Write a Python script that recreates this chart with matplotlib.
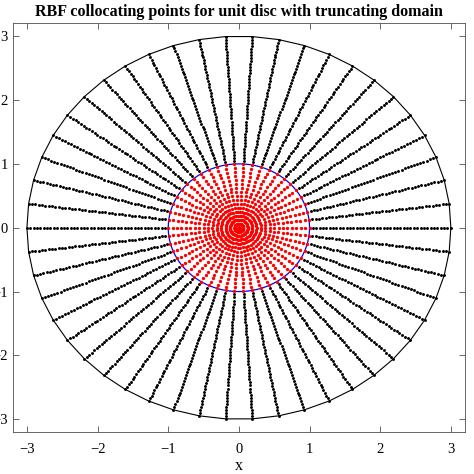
import numpy as np
import matplotlib
matplotlib.use("Agg")
import matplotlib.pyplot as plt

plt.rcParams["font.family"] = ["Liberation Serif", "DejaVu Serif"]

# ======== data ========
n_rays = 50            # number of angular directions
n_inner = 17           # points per ray inside unit disc (0..1)
n_outer = 42           # points per ray in truncating annulus (1..3]
r_inner = 1.0
r_outer = 3.0
xticks = [-3, -2, -1, 0, 1, 2, 3]
yticks = [-3, -2, -1, 0, 1, 2, 3]
# =====================

theta = np.linspace(0, 2 * np.pi, n_rays, endpoint=False)
r_in = np.linspace(0, r_inner, n_inner)
r_out = np.linspace(r_inner, r_outer, n_outer + 1)[1:]

R_in, T_in = np.meshgrid(r_in, theta)
R_out, T_out = np.meshgrid(r_out, theta)

fig = plt.figure(figsize=(4.74, 4.74), dpi=100)
ax = fig.add_axes([0.027, 0.0886, 0.954, 0.862])

# outer boundary (polygon through ray ends) and unit circle
tc = np.append(theta, theta[0])
ax.plot(r_outer * np.cos(tc), r_outer * np.sin(tc), color="k", lw=0.8)
tt = np.linspace(0, 2 * np.pi, 400)
ax.plot(r_inner * np.cos(tt), r_inner * np.sin(tt), color="b", lw=0.9)

ax.plot((R_out * np.cos(T_out)).ravel(), (R_out * np.sin(T_out)).ravel(),
        "o", color="k", ms=2.1, mew=0)
ax.plot((R_in * np.cos(T_in)).ravel(), (R_in * np.sin(T_in)).ravel(),
        "o", color="r", ms=2.4, mew=0)

ax.set_xlim(-3.2, 3.2)
ax.set_ylim(-3.2, 3.2)
ax.set_xticks(xticks)
ax.set_yticks(yticks)
ax.tick_params(direction="in", top=True, right=True, labelsize=10.5,
               length=4, width=0.6, color="0.3")
ax.tick_params(axis="x", pad=8)
for s in ax.spines.values():
    s.set_linewidth(0.6)
    s.set_color("0.3")
ax.set_xlabel("x", fontsize=11.5, labelpad=1)
ax.set_title("RBF collocating points for unit disc with truncating domain",
             fontsize=11.5, fontweight="bold", pad=5)

fig.savefig("out.png", dpi=100)
